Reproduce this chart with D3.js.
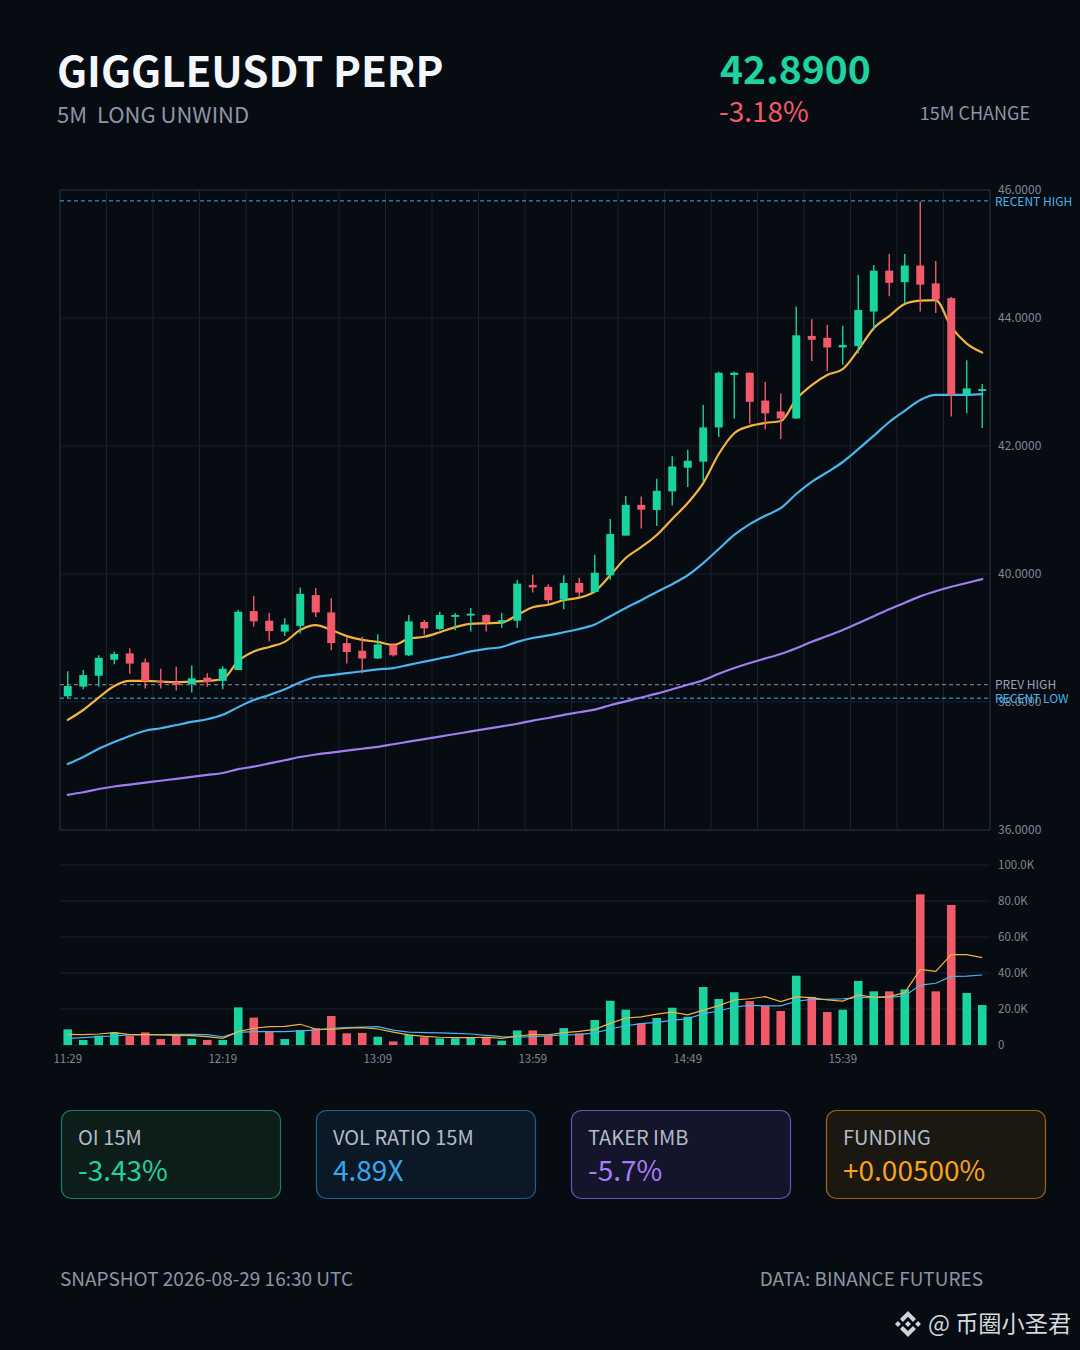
<!DOCTYPE html>
<html><head><meta charset="utf-8">
<script src="https://cdn.jsdelivr.net/npm/d3@7/dist/d3.min.js"></script>
<style>
html,body{margin:0;padding:0;background:#070b12;}
svg{display:block;}
text{font-family:"Noto Sans CJK SC","Noto Sans",sans-serif;}
</style></head>
<body>
<svg id="c" width="1080" height="1350"></svg>
<script>
const times = ["11:29","11:34","11:39","11:44","11:49","11:54","11:59","12:04","12:09","12:14","12:19","12:24","12:29","12:34","12:39","12:44","12:49","12:54","12:59","13:04","13:09","13:14","13:19","13:24","13:29","13:34","13:39","13:44","13:49","13:54","13:59","14:04","14:09","14:14","14:19","14:24","14:29","14:34","14:39","14:44","14:49","14:54","14:59","15:04","15:09","15:14","15:19","15:24","15:29","15:34","15:39","15:44","15:49","15:54","15:59","16:04","16:09","16:14","16:19","16:24"];
const openP = [38.09,38.24,38.41,38.66,38.76,38.62,38.33,38.31,38.28,38.38,38.33,38.50,39.42,39.27,39.10,39.19,39.67,39.40,38.92,38.80,38.68,38.89,38.73,39.25,39.14,39.33,39.35,39.36,39.245,39.27,39.83,39.80,39.60,39.86,39.72,39.98,40.60,41.08,41.00,41.29,41.66,41.755,42.29,43.11,43.145,42.71,42.54,42.43,43.72,43.69,43.54,43.5625,44.10,44.74,44.56,44.82,44.54,44.31,42.81,42.86];
const closeP = [38.25,38.42,38.69,38.75,38.60,38.33,38.32,38.27,38.37,38.31,38.52,39.41,39.26,39.11,39.21,39.69,39.40,38.92,38.78,38.68,38.90,38.73,39.26,39.15,39.36,39.36,39.38,39.245,39.28,39.85,39.79,39.59,39.86,39.71,40.02,40.625,41.08,41.005,41.30,41.68,41.77,42.29,43.145,43.145,42.69,42.51,42.43,43.73,43.66,43.54,43.58,44.125,44.74,44.55,44.82,44.52,44.29,42.80,42.90,42.89];
const highP = [38.48,38.50,38.73,38.79,38.84,38.68,38.52,38.55,38.57,38.45,38.56,39.44,39.66,39.39,39.31,39.79,39.78,39.62,39.02,39.02,39.06,38.92,39.36,39.28,39.41,39.39,39.47,39.37,39.39,39.91,39.99,39.84,39.98,39.94,40.30,40.86,41.22,41.21,41.49,41.84,41.94,42.64,43.16,43.16,43.15,43.00,42.82,44.18,43.98,43.89,43.88,44.67,44.83,45.00,45.00,45.82,44.89,44.33,43.34,42.97];
const lowP = [38.06,38.20,38.24,38.59,38.44,38.21,38.21,38.18,38.15,38.24,38.20,38.50,39.18,38.95,39.03,39.07,39.33,38.81,38.60,38.45,38.67,38.71,38.72,39.05,39.12,39.12,39.10,39.10,39.16,39.16,39.71,39.53,39.45,39.64,39.70,39.91,40.60,40.71,40.75,41.07,41.36,41.44,42.14,42.43,42.35,42.26,42.11,42.42,43.33,43.17,43.27,43.45,43.81,44.34,44.23,44.10,44.08,42.46,42.51,42.28];
const maFast = [37.72,37.875,38.07,38.25,38.33,38.33,38.32,38.31,38.32,38.33,38.36,38.64,38.79,38.86,38.94,39.125,39.20,39.125,39.03,38.97,38.94,38.89,38.99,39.02,39.09,39.17,39.22,39.23,39.24,39.36,39.48,39.52,39.59,39.63,39.73,39.98,40.25,40.42,40.61,40.86,41.11,41.42,41.875,42.20,42.31,42.36,42.39,42.73,42.95,43.11,43.20,43.50,43.84,44.03,44.22,44.27,44.28,43.86,43.60,43.46];
const maMid = [37.03,37.14,37.27,37.375,37.47,37.55,37.59,37.64,37.69,37.73,37.80,37.92,38.03,38.11,38.20,38.31,38.39,38.42,38.45,38.48,38.51,38.53,38.58,38.63,38.68,38.73,38.79,38.83,38.86,38.94,39.00,39.04,39.09,39.14,39.21,39.34,39.47,39.59,39.72,39.84,39.98,40.17,40.39,40.61,40.78,40.91,41.03,41.25,41.44,41.59,41.75,41.95,42.16,42.375,42.55,42.72,42.80,42.80,42.80,42.81];
const maSlow = [36.55,36.59,36.64,36.68,36.71,36.74,36.77,36.80,36.83,36.86,36.89,36.95,36.99,37.04,37.09,37.14,37.18,37.21,37.24,37.27,37.30,37.34,37.38,37.42,37.46,37.50,37.54,37.58,37.62,37.66,37.71,37.75,37.80,37.84,37.88,37.95,38.01,38.07,38.13,38.20,38.27,38.34,38.44,38.53,38.61,38.68,38.75,38.84,38.94,39.03,39.125,39.23,39.34,39.45,39.55,39.65,39.73,39.80,39.86,39.92];
const volumeK = [8.7,2.8,5.2,7.0,5.0,7.0,3.3,5.6,3.5,2.8,2.8,20.9,15.2,7.8,3.3,8.3,9.3,16.1,6.5,6.7,4.6,2.0,5.6,4.3,3.7,3.7,4.4,4.3,2.4,8.1,8.1,5.2,9.4,6.5,13.9,24.6,19.6,12.0,15.0,20.7,15.7,32.2,25.6,29.3,24.4,21.7,18.9,38.5,26.7,18.3,19.6,35.6,29.8,29.8,30.9,83.7,29.8,77.8,28.9,22.2];
const volMaFast = [5.9,5.8,6.1,6.9,5.8,5.8,5.6,5.4,5.2,4.6,3.7,7.4,9.3,10.2,10.4,11.5,8.9,8.7,9.3,9.6,8.9,7.2,5.6,4.8,4.3,4.1,4.1,4.3,3.7,5.0,5.8,5.7,6.9,7.6,8.7,12.0,15.0,15.6,17.2,18.3,16.7,19.4,21.9,25.0,25.7,26.9,24.1,26.7,26.3,25.0,24.4,27.8,26.5,26.9,29.1,42.0,40.9,50.2,50.2,48.5];
const volMaSlow = [3.7,4.1,4.6,5.0,5.6,5.8,5.8,5.9,5.9,5.8,4.6,7.0,7.4,7.4,7.4,7.8,8.3,9.3,9.6,10.0,10.2,8.3,7.2,6.9,6.7,6.5,6.1,5.4,4.6,4.3,4.6,5.1,5.6,5.8,6.7,8.9,10.7,11.9,12.6,13.7,14.6,17.4,18.9,21.1,22.0,21.7,21.7,24.3,25.4,25.4,25.7,26.3,26.5,26.5,27.2,33.3,34.3,38.1,38.3,38.9];
const priceTicks = [36,38,40,42,44,46];
const volTicks = [0,20,40,60,80,100];
const timeTickIdx = [0,10,20,30,40,50];
const refLevels = [45.83, 38.27, 38.06];
const refNames = ["RECENT HIGH","PREV HIGH","RECENT LOW"];
const cardLabels = ["OI 15M","VOL RATIO 15M","TAKER IMB","FUNDING"];
const cardValues = ["-3.43%","4.89X","-5.7%","+0.00500%"];

const C = {bg:"#070b12", grid:"#1a212c", axis:"#7f8898", up:"#19d3a0", down:"#f25a69",
  fast:"#f4b33d", mid:"#4ab6ee", slow:"#a07ef2", gray:"#8c95a6"};
const FONT = '"Noto Sans CJK SC","Noto Sans",sans-serif';

const svg = d3.select("#c");
svg.append("rect").attr("width",1080).attr("height",1350).attr("fill",C.bg);

// header
svg.append("text").attr("x",57).attr("y",87).attr("fill","#f3f6fb").attr("font-size",42).attr("font-weight",700).text("GIGGLEUSDT PERP");
svg.append("text").attr("x",57).attr("y",123).attr("fill",C.gray).attr("font-size",22).attr("xml:space","preserve").text("5M  LONG UNWIND");
svg.append("text").attr("x",720).attr("y",84).attr("fill","#1fd3a1").attr("font-size",39).attr("font-weight",700).text("42.8900");
svg.append("text").attr("x",719).attr("y",122).attr("fill",C.down).attr("font-size",28).text("-3.18%");
svg.append("text").attr("x",1030).attr("y",120).attr("text-anchor","end").attr("fill",C.gray).attr("font-size",18).text("15M CHANGE");

// scales
const L=60, R=990, T=190, B=830;
const x = d3.scaleBand().domain(d3.range(times.length)).range([L,R]).padding(0);
const bw = x.bandwidth();
const cx = i => x(i)+bw/2;
const y = d3.scaleLinear().domain([36,46]).range([B,T]);
const VT=865, VB=1045;
const yv = d3.scaleLinear().domain([0,100]).range([VB,VT]);

// price grid
const g = svg.append("g");
g.selectAll("line.h").data(priceTicks).join("line").attr("x1",L).attr("x2",R)
  .attr("y1",d=>y(d)).attr("y2",d=>y(d)).attr("stroke",C.grid).attr("stroke-width",1);
g.selectAll("line.v").data(d3.range(0,times.length+1,3)).join("line")
  .attr("x1",d=>d===times.length?R:x(d)).attr("x2",d=>d===times.length?R:x(d)).attr("y1",T).attr("y2",B)
  .attr("stroke",C.grid).attr("stroke-width",1);
svg.append("rect").attr("x",L).attr("y",T).attr("width",R-L).attr("height",B-T).attr("fill","none").attr("stroke","#222b38");

// price axis
const pa = svg.append("g").attr("transform",`translate(${R},0)`)
  .call(d3.axisRight(y).tickValues(priceTicks).tickFormat(d3.format(".4f")).tickSize(0).tickPadding(8));
pa.select(".domain").remove();
pa.selectAll("text").attr("fill",C.axis).attr("font-size",12).attr("font-family",FONT);

// reference lines
const refColors = ["#3fb3ee","#8a93a3","#3fb3ee"];
refLevels.forEach((v,k)=>{
  svg.append("line").attr("x1",L).attr("x2",R).attr("y1",y(v)).attr("y2",y(v))
    .attr("stroke",refColors[k]).attr("stroke-width",1).attr("stroke-dasharray","4,3");
  svg.append("text").attr("x",995).attr("y",y(v)+1.5).attr("dominant-baseline","middle")
    .attr("fill",k===1?"#9aa2b1":"#45b5ee").attr("font-size",12).text(refNames[k]);
});

// MA lines
const line = arr => d3.line().x((d,i)=>cx(i)).y(d=>y(d)).curve(d3.curveMonotoneX)(arr);
[[maSlow,C.slow],[maMid,C.mid],[maFast,C.fast]].forEach(([arr,col])=>{
  svg.append("path").attr("d",line(arr)).attr("fill","none").attr("stroke",col).attr("stroke-width",2.2)
    .attr("stroke-linejoin","round").attr("stroke-linecap","round");
});

// candles
const idx = d3.range(times.length);
const isUp = i => closeP[i] >= openP[i];
const cg = svg.append("g");
cg.selectAll("line").data(idx).join("line")
  .attr("x1",cx).attr("x2",cx).attr("y1",i=>y(highP[i])).attr("y2",i=>y(lowP[i]))
  .attr("stroke",i=>isUp(i)?C.up:C.down).attr("stroke-width",1.4);
const bodyW = 8;
cg.selectAll("rect").data(idx).join("rect")
  .attr("x",i=>cx(i)-bodyW/2).attr("width",bodyW)
  .attr("y",i=>y(Math.max(openP[i],closeP[i])))
  .attr("height",i=>Math.max(1.6, Math.abs(y(openP[i])-y(closeP[i]))))
  .attr("fill",i=>isUp(i)?C.up:C.down);

// volume grid
svg.selectAll("line.vg").data(volTicks).join("line").attr("class","vg").attr("x1",L).attr("x2",R)
  .attr("y1",d=>yv(d)).attr("y2",d=>yv(d)).attr("stroke",C.grid).attr("stroke-width",1);
const va = svg.append("g").attr("transform",`translate(${R},0)`)
  .call(d3.axisRight(yv).tickValues(volTicks).tickFormat(d=>d===0?"0":d.toFixed(1)+"K").tickSize(0).tickPadding(8));
va.select(".domain").remove();
va.selectAll("text").attr("fill",C.axis).attr("font-size",11.5).attr("font-family",FONT);

// volume bars
const vbw = 8.6;
svg.append("g").selectAll("rect").data(idx).join("rect")
  .attr("x",i=>cx(i)-vbw/2).attr("width",vbw)
  .attr("y",i=>yv(volumeK[i])).attr("height",i=>yv(0)-yv(volumeK[i]))
  .attr("fill",i=>isUp(i)?C.up:C.down);
const vline = arr => d3.line().x((d,i)=>cx(i)).y(d=>yv(d))(arr);
svg.append("path").attr("d",vline(volMaSlow)).attr("fill","none").attr("stroke",C.mid).attr("stroke-width",1.2);
svg.append("path").attr("d",vline(volMaFast)).attr("fill","none").attr("stroke",C.fast).attr("stroke-width",1.2);

// time axis
const ta = svg.append("g").attr("transform",`translate(0,${VB})`)
  .call(d3.axisBottom(x).tickValues(timeTickIdx).tickFormat(i=>times[i]).tickSize(0).tickPadding(10));
ta.select(".domain").remove();
ta.selectAll("text").attr("fill",C.axis).attr("font-size",11.5).attr("font-family",FONT);

// cards
const cardFill = ["#0c1d1a","#0b1927","#14142a","#1b1812"];
const cardStroke = ["#1c805f","#245f8b","#6a54b5","#9b6516"];
const cardText = ["#22d3a0","#36a7f0","#a57df6","#f7a21c"];
cardLabels.forEach((lab,k)=>{
  const gx = 61 + k*255;
  const cgp = svg.append("g").attr("transform",`translate(${gx},1110)`);
  cgp.append("rect").attr("x",0.5).attr("y",0.5).attr("width",219).attr("height",88).attr("rx",10)
    .attr("fill",cardFill[k]).attr("stroke",cardStroke[k]).attr("stroke-width",1.2);
  cgp.append("text").attr("x",17).attr("y",35).attr("fill","#b3bac7").attr("font-size",20).text(lab);
  cgp.append("text").attr("x",17).attr("y",71).attr("fill",cardText[k]).attr("font-size",28).text(cardValues[k]);
});

// footer
svg.append("text").attr("x",60).attr("y",1286).attr("fill",C.gray).attr("font-size",19).text("SNAPSHOT 2026-08-29 16:30 UTC");
svg.append("text").attr("x",983).attr("y",1286).attr("text-anchor","end").attr("fill",C.gray).attr("font-size",19).text("DATA: BINANCE FUTURES");

// watermark (Binance mark)
const wm = svg.append("g").attr("transform","translate(895,1311) scale(0.205)").attr("fill","#cfd3da");
wm.append("path").attr("d","M38.73,53.2L63.31,28.63L87.9,53.21L102.2,38.91L63.31,0L24.42,38.9Z M0,63.31L14.3,49.01L28.6,63.31L14.3,77.61Z M38.73,73.42L63.31,97.99L87.9,73.41L102.2,87.7L63.31,126.61L24.42,87.71Z M98.01,63.31L112.31,49.01L126.61,63.31L112.31,77.61Z M77.82,63.3L63.31,48.78L48.8,63.28L63.31,77.78Z");
svg.append("text").attr("x",928).attr("y",1332).attr("fill","#d3d7de").attr("font-size",23.2).text("@ 币圈小圣君");
</script>
</body></html>
